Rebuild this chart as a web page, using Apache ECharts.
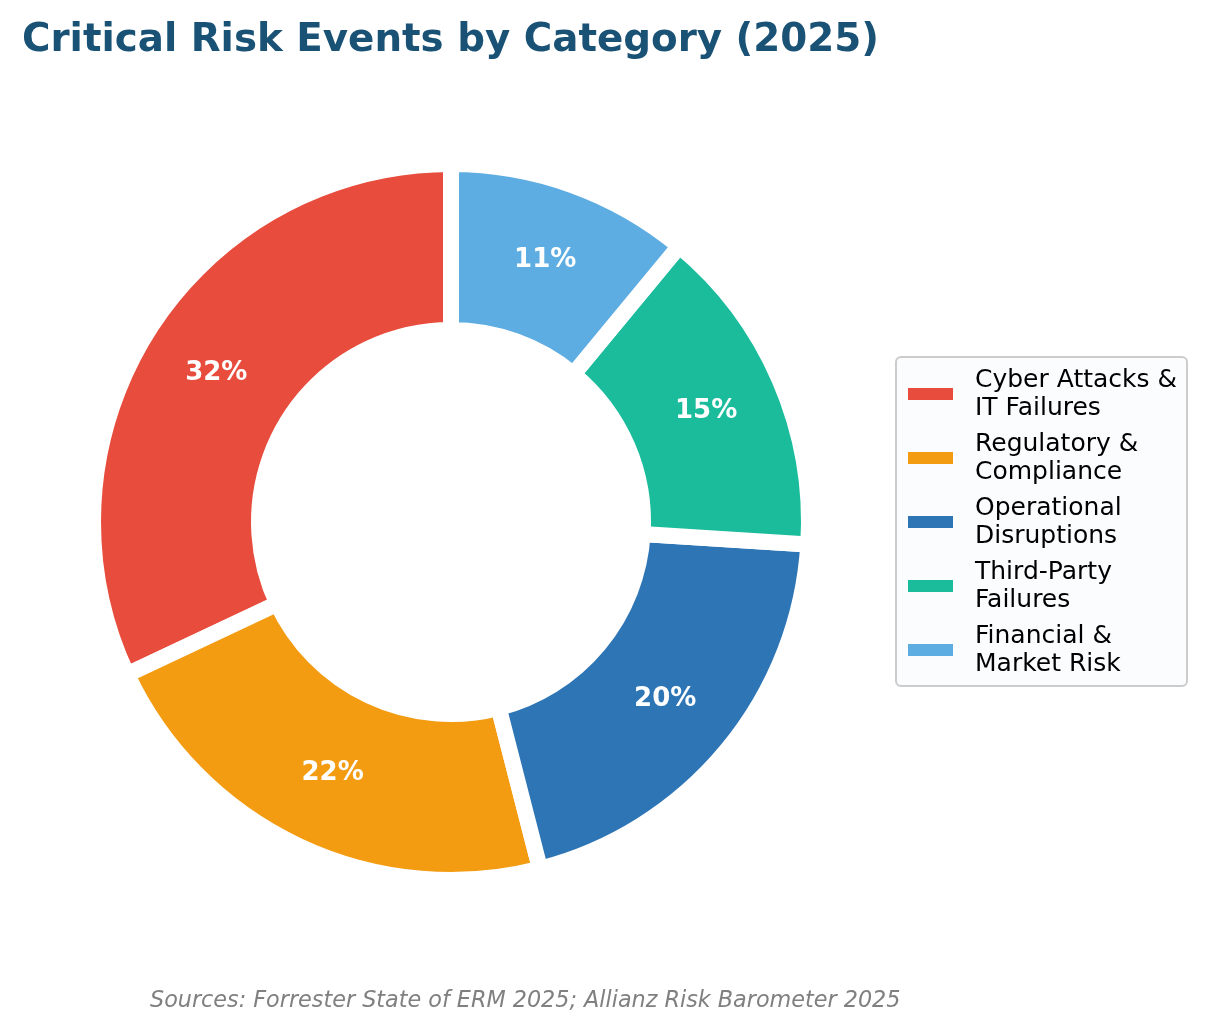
<!DOCTYPE html>
<html>
<head>
<meta charset="utf-8">
<script src="https://cdn.jsdelivr.net/npm/echarts@6/dist/echarts.min.js"></script>
<style>
  html, body { margin: 0; padding: 0; background: #fff; }
  #chart { width: 1206px; height: 1030px; }
</style>
</head>
<body>
<div id="chart"></div>
<script>
// 风险类别与占比
var categories = [
  'Cyber Attacks &\nIT Failures',
  'Regulatory &\nCompliance',
  'Operational\nDisruptions',
  'Third-Party\nFailures',
  'Financial &\nMarket Risk'
]
var shares = [32, 22, 20, 15, 11]
var colors = ['#e74c3c', '#f39c12', '#2e75b6', '#1abc9c', '#5dade2']

var font = 'DejaVu Sans'

var chart = echarts.init(document.getElementById('chart'))

var option = {
  animation: false,
  color: colors,
  title: [
    {
      text: 'Critical Risk Events by Category (2025)',
      left: 17,
      top: 16,
      textStyle: { fontFamily: font, fontSize: 38.8, fontWeight: 'bold', color: '#1a5276' }
    },
    {
      // 数据来源
      text: 'Sources: Forrester State of ERM 2025; Allianz Risk Barometer 2025',
      left: 145,
      top: 985,
      textStyle: { fontFamily: font, fontSize: 22.3, fontStyle: 'italic', fontWeight: 'normal', color: '#808080' }
    }
  ],
  legend: {
    orient: 'vertical',
    left: 896,
    top: 357,
    padding: [9, 10, 8, 12],
    itemWidth: 45,
    itemHeight: 12,
    itemGap: 8,
    icon: 'rect',
    backgroundColor: '#fbfcfe',
    borderColor: '#cccccc',
    borderWidth: 2,
    borderRadius: 5,
    itemStyle: { borderWidth: 0 },
    selectedMode: false,
    textStyle: {
      fontFamily: font,
      fontSize: 25,
      lineHeight: 28,
      color: '#000',
      padding: [0, 0, 0, 17]
    },
    data: categories
  },
  series: [
    {
      type: 'pie',
      center: [451, 522],
      radius: [192, 358],
      startAngle: 90,
      clockwise: false,
      avoidLabelOverlap: false,
      silent: true,
      itemStyle: { borderColor: '#fff', borderWidth: 16 },
      label: {
        position: 'inside',
        formatter: function (p) { return p.value + '%' },
        fontFamily: font,
        fontSize: 26,
        fontWeight: 'bold',
        color: '#fff'
      },
      labelLine: { show: false },
      data: categories.map(function (c, i) {
        return { name: c, value: shares[i] }
      })
    }
  ]
}

chart.setOption(option)
</script>
</body>
</html>
